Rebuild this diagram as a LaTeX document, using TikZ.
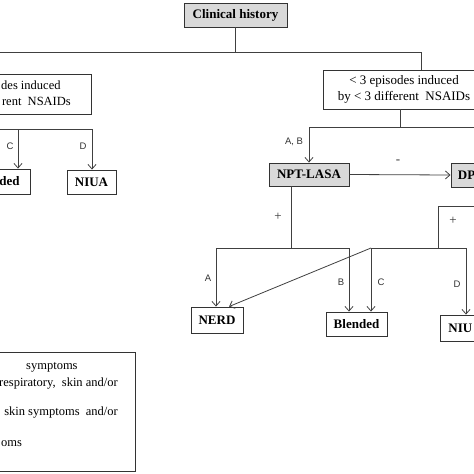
\documentclass[tikz,border=0pt]{standalone}
\usepackage{fontspec}
\setmainfont{Liberation Serif}
\newfontfamily\labfont{Liberation Sans}
\usetikzlibrary{arrows.meta}
\begin{document}
\begin{tikzpicture}[x=1pt,y=-1pt,
  box/.style={draw=black!80, line width=0.9pt, inner sep=0pt, font=\bfseries\fontsize{13}{14}\selectfont},
  gbox/.style={box, fill=gray!30},
  plain/.style={draw=black!80, line width=0.9pt, inner sep=0pt, font=\fontsize{13}{15.5}\selectfont},
  txt/.style={inner sep=0pt, font=\fontsize{12.5}{15}\selectfont},
  ln/.style={line width=0.8pt, draw=black!75},
  arr/.style={ln, -{Straight Barb[length=4.5pt,width=8pt]}},
  lbl/.style={inner sep=0pt, font=\labfont\fontsize{9.5}{10}\selectfont, text=black!80},
  sgn/.style={inner sep=0pt, font=\fontsize{13}{14}\selectfont, text=black!80}]
\useasboundingbox (0,0) rectangle (474,474);
\clip (0,0) rectangle (474,474);
\fill[white] (0,0) rectangle (474,474);

% nodes
\node[gbox, minimum width=103pt, minimum height=24pt] (ch) at (235.5,15) {Clinical history};
\node[plain, minimum width=162pt, minimum height=39pt, align=center] (eps) at (404,89.5) {< 3 episodes induced\\by < 3 different\ \ NSAIDs};
\node[plain, minimum width=140pt, minimum height=40pt, anchor=north east] (lb) at (92,74) {};
\node[txt, anchor=base west] (lt1) at (1,89) {des induced};
\node[txt, anchor=base east] (lt2) at (71,105) {rent\ \ NSAIDs};

\node[gbox, minimum width=80pt, minimum height=23pt] (npt) at (309,174.5) {NPT-LASA};
\node[gbox, anchor=west, minimum height=24pt, text width=40pt, inner xsep=7pt, align=left] (dp) at (450.5,175) {DP};

\node[box, minimum width=52pt, minimum height=26pt] (nerd) at (217,320) {NERD};
\node[box, minimum width=61pt, minimum height=24pt] (bl) at (356.5,324) {Blended};
\node[box, anchor=west, minimum height=26pt, text width=40pt, inner xsep=8pt, align=left] (niur) at (440,328) {NIU};

\node[box, anchor=east, minimum height=25pt, text width=40pt, inner xsep=11pt, align=right] (bll) at (31,181.5) {ded};
\node[box, minimum width=49pt, minimum height=24pt] (niul) at (91.5,182) {NIUA};

\node[plain, anchor=north east, minimum width=160pt, minimum height=119pt] (leg) at (136,352) {};
\node[txt, anchor=base west] (g1) at (26,369) {symptoms};
\node[txt, anchor=base east] (g2) at (118,386) {respiratory,\ \ skin and/or};
\node[txt, anchor=base east] (g3) at (118,415) {skin symptoms\ \ and/or};
\node[txt, anchor=base west] (g4) at (1,446) {oms};

% top connectors
\coordinate (j0) at (235.5,52);
\coordinate (tl) at (0,52);
\coordinate (tr) at (421,52);
\draw[ln] (ch.south) -- (j0);
\draw[ln] (tl) -- (tr) -- (tr |- eps.north);

% right branch
\coordinate (e1) at (400,127);
\coordinate (el) at (309,127);
\coordinate (er) at (474,127);
\draw[ln] (eps.south -| e1) -- (e1);
\draw[ln] (el) -- (er);
\draw[arr] (el) -- (npt.north);
\node[lbl] (lab) at (294,142) {A, B};
\draw[arr] (npt.east) -- (dp.west);
\node[sgn] (minus) at (398,162) {-};

% NPT-LASA positive
\coordinate (n1) at (291,248);
\coordinate (na) at (216,248);
\coordinate (nb) at (349,248);
\draw[ln] (npt.south -| n1) -- (n1);
\draw[ln] (na) -- (nb);
\draw[arr] (na) -- (nerd.north -| na);
\draw[arr] (nb) -- (bl.north -| nb);
\node[sgn] (plus1) at (278,217) {+};
\node[lbl] (la) at (208,278) {A};
\node[lbl] (lbb) at (341,282) {B};

% DP positive
\coordinate (d0) at (474,206);
\coordinate (d1) at (438,206);
\coordinate (d2) at (438,248);
\coordinate (dc) at (371,248);
\coordinate (dd) at (466,248);
\draw[ln] (d0) -- (d1) -- (d2);
\draw[ln] (dc) -- (dd);
\draw[arr] (dd) -- (niur.north -| dd);
\draw[arr] (dc) -- (bl.north -| dc);
\draw[arr] (dc) -- ([xshift=12pt]nerd.north);
\node[sgn] (plus2) at (453,221) {+};
\node[lbl] (lc) at (381,282) {C};
\node[lbl] (ld) at (457,284) {D};

% left branch
\coordinate (l0) at (0,129);
\coordinate (lc2) at (18,129);
\coordinate (ld2) at (92,129);
\draw[ln] (l0) -- (ld2);
\draw[arr] (lc2) -- (bll.north -| lc2);
\draw[arr] (ld2) -- (niul.north -| ld2);
\node[lbl] (lcc) at (10,146) {C};
\node[lbl] (ldd) at (83,146) {D};
\end{tikzpicture}
\end{document}
